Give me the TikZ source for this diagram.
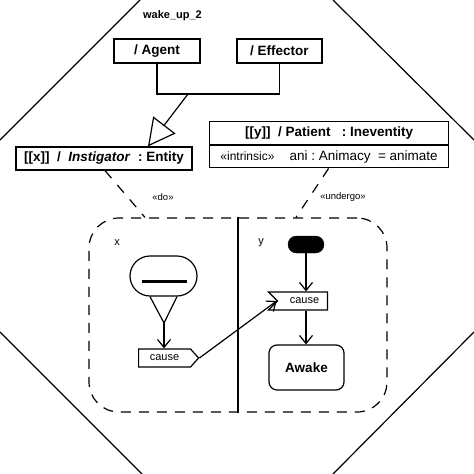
\documentclass[tikz,border=0pt]{standalone}
\usepackage{fontspec}
\setmainfont{Liberation Sans}
\usepackage{tikz}
\usetikzlibrary{arrows.meta,positioning,shapes.symbols,shapes.misc,calc}
\tikzset{
  frame/.style={line width=1.2pt, draw=black},
  umlbox/.style={rectangle, draw=black, line width=1.2pt, align=center, inner sep=0pt, font=\fontsize{13.5}{16}\selectfont\bfseries},
  attrbox/.style={rectangle, draw=black, line width=1.2pt, align=center, inner sep=0pt, font=\fontsize{13.5}{15}\selectfont},
  title/.style={font=\fontsize{11}{13}\selectfont\bfseries, inner sep=0pt},
  stereo/.style={font=\fontsize{9.5}{11}\selectfont, inner sep=0pt},
  lanelbl/.style={font=\fontsize{11}{13}\selectfont, inner sep=0pt},
  region/.style={rectangle, rounded corners=30pt, draw=black, line width=1.2pt, dash pattern=on 10pt off 8pt},
  oval/.style={rectangle, rounded corners=20pt, draw=black, line width=1.2pt},
  initnode/.style={rectangle, rounded corners=8.5pt, draw=black, fill=black},
  action/.style={rectangle, rounded corners=8pt, draw=black, line width=1.2pt, font=\fontsize{13.5}{16}\selectfont\bfseries},
  sendsig/.style={signal, signal to=east, signal pointer angle=96, draw=black, line width=1.2pt, inner sep=0pt, minimum width=60pt, minimum height=18pt, font=\fontsize{11}{13}\selectfont},
  acceptsig/.style={signal, signal to=nowhere, signal from=west, signal pointer angle=90, draw=black, line width=1.2pt, inner sep=0pt, minimum width=59pt, minimum height=18pt, font=\fontsize{11}{13}\selectfont},
  conn/.style={line width=1.2pt, draw=black},
  gen/.style={-{Triangle[open, length=27pt, width=28pt]}, line width=1.2pt, draw=black, fill=white},
  dep/.style={line width=1.2pt, draw=black, dash pattern=on 10pt off 9pt},
  flow/.style={-{Straight Barb[length=8pt, width=13pt]}, line width=1.2pt, draw=black}
}
\begin{document}
\begin{tikzpicture}[x=1pt,y=-1pt]
  \useasboundingbox (0,0) rectangle (474,474);
  % cut corners of the outer frame
  \draw[frame] (0,140) -- (140,0);
  \draw[frame] (333,0) -- (474,140);
  \draw[frame] (0,332) -- (142,474);
  \draw[frame] (474,332) -- (333,474);
  \node[title] (name) at (172.5,16) {wake\_up\_2};
  % roles
  \node[umlbox, minimum width=86pt, minimum height=24pt] (agent) at (157,51) {/ Agent};
  \node[umlbox, minimum width=85pt, minimum height=24pt] (effector) at (279.5,51) {/ Effector};
  \node[umlbox, minimum width=176pt, minimum height=23pt] (instig) at (104,158.5) {[[x]]\ \ /\ \ \textit{Instigator}\ \ :\ Entity};
  \node[umlbox, minimum width=239pt, minimum height=23pt, anchor=north west] (patient) at (209,121) {[[y]]\ \ /\ Patient\ \ \ :\ Ineventity};
  \node[attrbox, minimum width=239pt, minimum height=22pt, anchor=north] (attr) at (patient.south) {{\fontsize{12}{14}\selectfont«intrinsic»}\ \ \ \ ani\ :\ Animacy\ \ =\ animate};
  \coordinate (join) at (188,94);
  \draw[conn] (agent.south) |- (join) -| (effector.south);
  \draw[gen] (join) -- ([xshift=44pt]instig.north);
  % activity with two lanes
  \node[region, minimum width=298pt, minimum height=194pt] (act) at (238,315) {};
  \draw[conn] (act.north) -- (act.south);
  \node[lanelbl] (xlbl) at (117,243) {x};
  \node[lanelbl] (ylbl) at (261,243) {y};
  \draw[dep] ([xshift=1pt]instig.south) -- ([xshift=-93pt]act.north);
  \draw[dep] ([xshift=-0.5pt]attr.south) -- ([xshift=58pt]act.north);
  \node[stereo] (dolbl) at (163,197) {«do»};
  \node[stereo] (undergolbl) at (343,197) {«undergo»};
  % lane x
  \node[oval, minimum width=67pt, minimum height=40pt] (fork) at (163.5,276) {};
  \draw[line width=3pt] ($(fork.center)+(-21.5,5)$) -- ($(fork.center)+(23.5,5)$);
  \coordinate (tip) at (164,323);
  \draw[conn] ($(fork.south)+(-13.5,0)$) -- (tip) -- ($(fork.south)+(13.5,0)$);
  \node[sendsig, anchor=west] (send) at (138,358) {cause\hspace{6pt}};
  \draw[flow] (tip) -- (tip |- send.north);
  % lane y
  \node[initnode, minimum width=36pt, minimum height=17pt] (start) at (306,244.5) {};
  \node[acceptsig] (accept) at (302.5,301) {\hspace{4pt}cause};
  \node[action, minimum width=75pt, minimum height=45pt] (awake) at (306.5,367.5) {Awake};
  \draw[flow] (send.east) -- (accept.west);
  \draw[flow] (start.south) -- (start.south |- accept.north);
  \draw[flow] (start.south |- accept.south) -- (start.south |- awake.north);
\end{tikzpicture}
\end{document}
